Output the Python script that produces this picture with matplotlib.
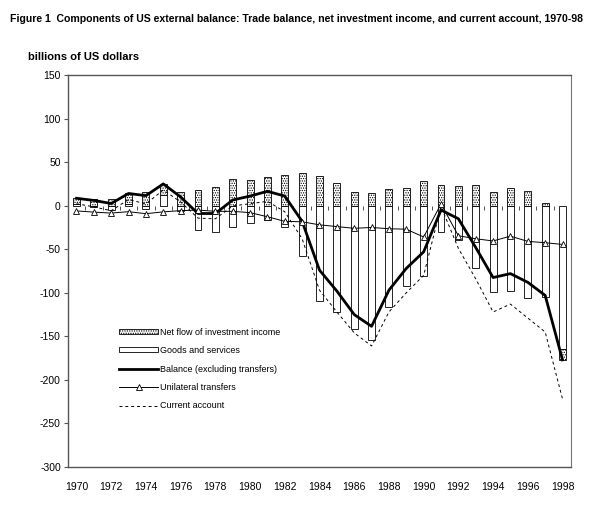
import numpy as np
import matplotlib
matplotlib.use("Agg")
import matplotlib.pyplot as plt
from matplotlib.patches import Patch
from matplotlib.lines import Line2D

plt.rcParams['font.family'] = ['Liberation Sans', 'DejaVu Sans']
plt.rcParams['hatch.linewidth'] = 0.6
plt.rcParams['axes.unicode_minus'] = False

years = list(range(1970, 1999))
goods = [2.3, -1.3, -5.4, 1.9, -4.3, 12.4, -6.1, -28, -30, -25, -19.5, -16.5, -24.5, -58,
         -110, -122, -142, -154, -116, -92, -80.5, -30, -39, -71, -99, -98, -106, -105, -165]
income = [6.2, 7.3, 7.9, 12.2, 15.5, 12.8, 16.1, 18, 21, 31, 30, 33, 35, 37,
          34.5, 25.7, 15.3, 14.2, 19, 20, 28.4, 24, 22.6, 23.8, 16, 20, 17, 2.7, -12]
balance = [8.5, 6, 2.5, 14, 11.5, 25, 10, -9, -9, 6.5, 11, 16.5, 11, -18,
           -74, -98, -125, -138.5, -97, -72, -53, -5, -15, -48, -82.5, -78, -88, -103, -177]
transfers = [-6, -7.4, -8.5, -6.9, -9.2, -7.1, -5.7, -5, -6.5, -6.5, -8, -12.7, -18, -18.5,
             -22, -24, -26, -25, -26.5, -27, -36, 2, -34.5, -38, -40.5, -35, -41, -42.5, -44.5]
current = [2.3, -1.4, -5.8, 7.1, 2, 18, 4.3, -14.3, -15.1, -0.3, 2.3, 5, -7, -38,
           -97, -122, -146, -161, -122, -100, -80, -1, -49, -84, -122, -113, -129, -145, -222]

title = ("Figure 1  Components of US external balance: Trade balance, net investment income, "
         "and current account, 1970-98")
ylabel = "billions of US dollars"
labels = ["Net flow of investment income", "Goods and services",
          "Balance (excluding transfers)", "Unilateral transfers", "Current account"]

x = np.arange(len(years))
g = np.array(goods)
inc = np.array(income)
bottom_inc = np.where(np.sign(inc) == np.sign(g), g, 0)

fig = plt.figure(figsize=(6.0, 5.05), dpi=100)
ax = fig.add_axes([0.113, 0.0752, 0.839, 0.7763])

w = 0.4
ax.bar(x, g, width=w, color='white', edgecolor='black', linewidth=0.6, zorder=2)
ax.bar(x, inc, width=w, bottom=bottom_inc, color='white', edgecolor='black',
       linewidth=0.6, hatch='.......', zorder=2)

ax.plot(x, balance, color='black', linewidth=2.0, zorder=4)
ax.plot(x, transfers, color='black', linewidth=0.7, marker='^', markersize=4,
        markerfacecolor='white', markeredgecolor='black', markeredgewidth=0.6, zorder=4)
ax.plot(x, current, color='black', linewidth=0.7, dashes=(3, 3), zorder=3)

ax.set_xlim(-0.5, len(years) - 0.5)
ax.set_ylim(-300, 150)
ax.set_yticks(np.arange(-300, 151, 50))
ax.tick_params(axis='y', labelsize=7.5, length=3, width=0.8, color='#555555', pad=2)
ax.set_xticks(x[::2])
ax.set_xticklabels([str(y) for y in years[::2]])
ax.tick_params(axis='x', labelsize=7.5, length=0, pad=11)

for s in ['left', 'bottom', 'top']:
    ax.spines[s].set_color('#555555')
    ax.spines[s].set_linewidth(1.0)
ax.spines['right'].set_color('#777777')
ax.spines['right'].set_linewidth(0.8)
ax.spines['right'].set_linestyle((0, (1, 1)))

# category axis crossing at zero
zero_pos = (0 - (-300)) / 450.0
sec = ax.secondary_xaxis(zero_pos)
sec.set_xticks(x[:-1] + 0.5)
sec.set_xticklabels([])
sec.spines['bottom'].set_color('#444444')
sec.spines['bottom'].set_linewidth(0.9)
sec.spines['top'].set_visible(False)
sec.xaxis.set_ticks_position('bottom')
sec.tick_params(axis='x', direction='out', length=3, width=0.6, color='#333333')

handles = [
    Patch(facecolor='white', edgecolor='black', linewidth=0.6, hatch='.......'),
    Patch(facecolor='white', edgecolor='black', linewidth=0.6),
    Line2D([], [], color='black', linewidth=2.0),
    Line2D([], [], color='black', linewidth=0.7, marker='^', markersize=4,
           markerfacecolor='white', markeredgecolor='black', markeredgewidth=0.6),
    Line2D([], [], color='black', linewidth=0.7, dashes=(3, 3)),
]
leg = ax.legend(handles, labels, loc='upper left', bbox_to_anchor=(0.095, 0.365),
                frameon=False, fontsize=6.5, handlelength=4.3, handleheight=0.5,
                handletextpad=0.2, labelspacing=1.05, borderaxespad=0)

fig.text(0.017, 0.963, title, fontsize=7.6, fontweight='bold', ha='left', va='center')
fig.text(0.047, 0.887, ylabel, fontsize=8, fontweight='bold', ha='left', va='center')

fig.savefig('out.png', dpi=100)
